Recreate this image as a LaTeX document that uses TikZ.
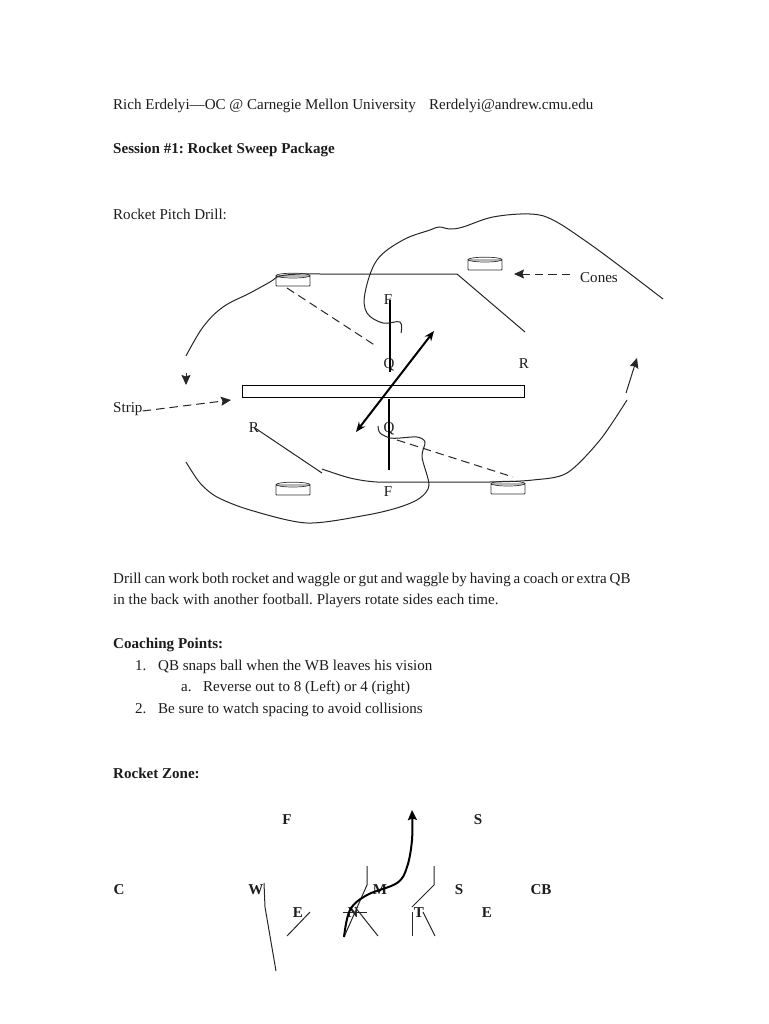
\documentclass[tikz,border=0pt]{standalone}
\usepackage{fontspec}
\setmainfont{Liberation Serif}
\usetikzlibrary{arrows.meta, positioning}
\definecolor{ink}{HTML}{1C1C1C}
\tikzset{
  txt/.style   = {anchor=base west, inner sep=0pt, text=ink, font=\fontsize{15.05}{18}\selectfont\frenchspacing},
  btxt/.style  = {txt, font=\fontsize{15.05}{18}\selectfont\frenchspacing\bfseries},
  lbl/.style   = {anchor=base, inner sep=0pt, text=ink, font=\fontsize{15.05}{18}\selectfont},
  blbl/.style  = {lbl, font=\fontsize{15.05}{18}\selectfont\bfseries},
  conebox/.style = {rectangle, rounded corners=0.8pt, draw=black!80, line width=0.8pt,
                    minimum width=34pt, minimum height=10pt, inner sep=0pt},
  route/.style = {draw=black!85, line width=1pt},
  dsh/.style   = {draw=black!85, line width=1pt, dash pattern=on 8.5pt off 5pt},
  harr/.style  = {draw=black, line width=2pt},
  tip/.style   = {-{Stealth[length=10pt,width=9pt,inset=1.5pt]}},
}
\begin{document}
\begin{tikzpicture}[x=1pt, y=-1pt]
  \useasboundingbox (0,0) rectangle (768,1024);

  % page text
  \node[txt]  (head)  at (113,110) {Rich Erdelyi---OC @ Carnegie Mellon University};
  \node[txt]  (mail)  at (429,110) {Rerdelyi@andrew.cmu.edu};
  \node[btxt] (sess)  at (113,154) {Session \#1: Rocket Sweep Package};
  \node[txt]  (pitch) at (113,219) {Rocket Pitch Drill:};
  \node[txt]  (para1) at (113,583) {\spaceskip=2.9pt Drill can work both rocket and waggle or gut and waggle by having a coach or extra QB};
  \node[txt]  (para2) at (113,604) {in the back with another football. Players rotate sides each time.};
  \node[btxt] (coach) at (113,648) {Coaching Points:};
  \node[txt]  (num1)  at (135,670) {1.};
  \node[txt]  (item1) at (158,670) {QB snaps ball when the WB leaves his vision};
  \node[txt]  (numa)  at (181,691) {a.};
  \node[txt]  (itema) at (203,691) {Reverse out to 8 (Left) or 4 (right)};
  \node[txt]  (num2)  at (135,713) {2.};
  \node[txt]  (item2) at (158,713) {Be sure to watch spacing to avoid collisions};
  \node[btxt] (zone)  at (113,778) {Rocket Zone:};

  % drill: strip and cones
  \node[draw=black, line width=1pt, minimum width=282pt, minimum height=12pt, inner sep=0pt] (strip) at (383,391) {};
  \foreach \n/\x/\y in {coneA/293/281, coneB/485/265, coneC/293/490, coneD/508/489} {
    \node[conebox] (\n) at (\x,\y) {};
    \draw[black!80, line width=0.7pt] (\n.north) ellipse (17pt and 2.4pt);
  }

  % drill labels
  \node[lbl] (fA) at (388,304) {F};
  \node[lbl] (qA) at (389,368) {Q};
  \node[lbl] (rA) at (524,368) {R};
  \node[lbl] (qB) at (389,432) {Q};
  \node[lbl] (rB) at (254,432) {R};
  \node[lbl] (fB) at (388,496) {F};
  \node[txt] (strp) at (113,412) {Strip};
  \node[txt] (cones) at (580,282) {Cones};

  % thick lines through the strip
  \draw[harr] (390,300) -- (390,372);
  \draw[harr] (389,399) -- (389,470);
  \draw[harr, {Stealth[length=10pt,width=8pt]}-{Stealth[length=10pt,width=8pt]}] (356,432) -- (434,331);

  % dashed
  \coordinate (dA1) at (287,288);
  \coordinate (dA2) at (376,346);
  \coordinate (dB1) at (397,440);
  \coordinate (dB2) at (513,477);
  \coordinate (dC1) at (570,274);
  \coordinate (dC2) at (514,274);
  \draw[dsh] (dA1) -- (dA2);
  \draw[dsh] (dB1) -- (dB2);
  \draw[dsh, tip] (strp.base east) ++(0,-1) -- (231,400);
  \draw[dsh, tip] (dC1) -- (dC2);

  % routes, top half
  \draw[route] plot[smooth, tension=0.6] coordinates {(186,356) (203,327) (223,307) (250,293) (270,282) (280,276) (300,274) (320,274)}
    -- (457,274) -- (525,332);
  \draw[route] plot[smooth, tension=0.6] coordinates {(401,333) (400,322) (383,323) (367,313) (365,293) (377,260) (403,240)
    (430,230) (439,227) (450,229) (463,227) (493,217) (530,214) (553,220) (587,242) (625,270) (663,299)};
  \draw[route, tip, line width=1pt] (186,373) -- (186,385);

  % routes, bottom half
  \draw[route] (255,428) -- (322,473);
  \draw[route] plot[smooth, tension=0.5] coordinates {(322,469) (350,478) (377,482) (420,482) (490,482) (533,480) (567,473) (600,440) (627,400)};
  \draw[route, tip] (626,393) -- (637,358);
  \draw[route] plot[smooth, tension=0.5] coordinates {(186,462) (200,483) (217,497) (250,510) (307,523) (367,515) (400,507) (420,498) (429,485) (422,457)
    (425,442) (417,437) (400,438) (390,438) (380,433) (378,426)};

  % rocket zone labels
  \node[blbl] (zF)  at (287,824) {F};
  \node[blbl] (zS)  at (478,824) {S};
  \node[blbl] (zC)  at (119,894) {C};
  \node[blbl] (zW)  at (256,894) {W};
  \node[blbl] (zM)  at (380,894) {M};
  \node[blbl] (zS2) at (459,894) {S};
  \node[blbl] (zCB) at (541,894) {CB};
  \node[blbl] (zE)  at (298,917) {E};
  \node[blbl] (zN)  at (353,917) {N};
  \node[blbl] (zT)  at (419,917) {T};
  \node[blbl] (zE2) at (487,917) {E};

  % rocket zone blocks
  \draw[route] (264,883) -- (265,907) -- (276,971);
  \draw[route] (310,912) -- (287,936);
  \draw[route] (367,866) -- (367,885) -- (344,937);
  \draw[route] (343,912) -- (367,912);
  \draw[route] (355,907) -- (378,936);
  \draw[route] (434,866) -- (434,885) -- (412,907);
  \draw[route] (412,912) -- (412,936);
  \draw[route] (423,912) -- (435,936);
  \draw[harr, tip] plot[smooth, tension=0.6] coordinates {(344,937) (350,910) (367,895) (397,883) (407,867) (412,840) (412,810)};
\end{tikzpicture}
\end{document}
